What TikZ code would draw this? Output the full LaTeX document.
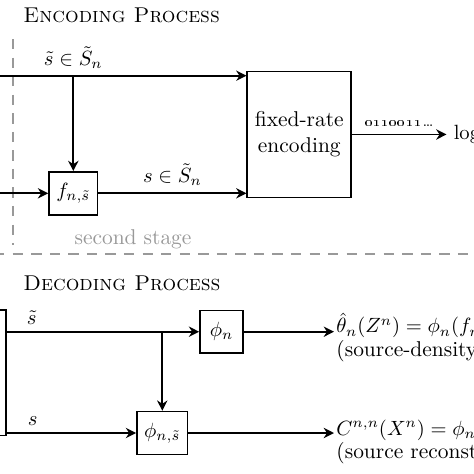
\documentclass[tikz,border=0pt]{standalone}
\usetikzlibrary{arrows.meta}

\begin{document}
\begin{tikzpicture}[
  every node/.style={font=\fontsize{10.4}{12.5}\selectfont},
  block/.style={draw,thick,minimum width=#1,minimum height=0.73cm,inner sep=1pt},
  block/.default=0.83cm,
  flow/.style={thick,-{Stealth[length=5pt,width=5pt]}},
  stage/.style={gray!80,thick,dash pattern=on 5pt off 4pt}]
\useasboundingbox (0,0) rectangle (8.082,8.082);
\clip (0,0) rectangle (8.082,8.082);
\node[anchor=base west] (enctitle) at (0.275,7.690) {\textsc{Encoding Process}};
\node[anchor=base west] (dectitle) at (0.275,3.125) {\textsc{Decoding Process}};
\draw[stage] (0.222,7.417) -- (0.222,3.904);
\draw[stage] (-0.1,3.751) -- (8.2,3.751);
\node[gray!80] (second) at (2.268,4.007) {second stage};
\node[block=1.773cm,minimum height=2.148cm,align=center] (enc) at (5.103,5.789) {fixed-rate\\encoding};
\node[block] (f) at (1.25,4.786) {$f_{n,\tilde s}$};
\coordinate (tin) at (-0.2,6.791);
\coordinate (sin) at (-0.2,4.786);
\coordinate (tsplit) at (1.25,6.791);
\node[anchor=west] (log) at (7.613,5.789) {$\log$};
\draw[flow] (tin) -- (tin -| enc.west);
\node[above] at (tsplit) {$\tilde s\in\tilde S_n$};
\draw[flow] (tsplit) -- (f);
\draw[flow] (sin) -- (f);
\draw[flow] (f) -- node[above] {$s\in\tilde S_n$} (f -| enc.west);
\draw[flow] (enc) -- node[above,font=\scriptsize] {\oldstylenums{0110011}\ldots} (log);
\node[block=1.773cm,minimum height=2.143cm] (dec) at (-0.785,1.725) {};
\node[block=0.738cm,minimum height=0.721cm] (phin) at (3.779,2.426) {$\phi_n$};
\node[block=0.864cm] (phins) at (2.767,0.699) {$\phi_{n,\tilde s}$};
\coordinate (dsplit) at (2.767,2.426);
\node[anchor=base west,align=left,inner sep=1pt] (est) at (5.695,2.0)
  {$\hat\theta_n(Z^n)=\phi_n(f_{n,\tilde s}(Z^n))$\\[-1pt](source-density estimation)};
\node[anchor=base west,align=left,inner sep=1pt] (rec) at (5.695,0.256)
  {$C^{n,n}(X^n)=\phi_{n,\tilde s}(s)$\\[-1pt](source reconstruction)};
\draw[flow] (phin -| dec.east) -- node[above,pos=0.13] {$\tilde s$} (phin);
\draw[flow] (dsplit) -- (phins);
\draw[flow] (phins -| dec.east) -- node[above,pos=0.2] {$s$} (phins);
\draw[flow] (phin) -- (phin -| est.west);
\draw[flow] (phins) -- (phins -| rec.west);
\end{tikzpicture}
\end{document}
